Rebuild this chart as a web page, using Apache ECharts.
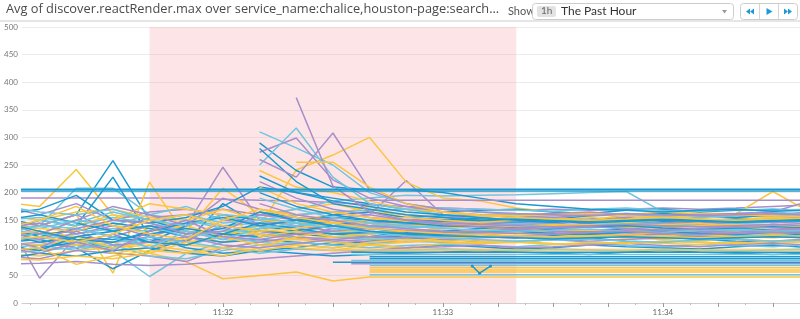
<!DOCTYPE html>
<html><head><meta charset="utf-8">
<script src="https://cdn.jsdelivr.net/npm/echarts@6/dist/echarts.min.js"></script>
<style>html,body{margin:0;padding:0;background:#fff}#c{width:800px;height:319px}</style>
</head><body><div id="c"></div>
<script>
// seconds after 11:31:00, one sample every 10 s
const times = [0,10,20,30,40,50,60,70,80,90,100,110,120,130,140,150,160,170,180,190,200,210,220];
const tickLabelValues = [60,120,180];
const tickLabels = ['11:32','11:33','11:34'];
const majorTicks = [15,30,45,60,75,90,105,120,135,150,165,180,195,210];
const minorTicks = [7.5,22.5,37.5,52.5,67.5,82.5,97.5,112.5,127.5,142.5,157.5,172.5,187.5,202.5];
const yTicks = [0,50,100,150,200,250,300,350,400,450,500];
const alertWindow = [40,140];

const yellowFull = [
 [183,175,242,160,150,135,125,130,128,140,135,130,128,132,135,130,128,132,130,135,138,132,130],
 [150,140,160,54,219,120,110,130,150,160,175,150,145,140,138,142,140,145,150,148,152,155,150],
 [130,125,150,140,135,130,208,160,170,180,165,160,155,150,152,150,155,150,148,150,145,150,148],
 [100,95,105,110,90,75,44,50,56,40,47,47,47,47,47,47,47,47,47,47,47,47,47],
 [120,115,140,160,130,140,120,140,241,268,300,219,190,185,172,165,160,158,155,160,158,156,155],
 [90,85,95,100,110,105,100,110,115,120,118,110,115,112,110,115,120,118,115,112,118,120,118],
 [160,150,165,170,155,150,170,150,145,150,140,145,150,155,160,155,150,160,165,162,162,202,165],
 [110,105,115,90,100,120,130,125,115,110,105,100,108,110,112,108,105,110,108,106,110,108,112],
 [140,135,130,150,180,170,160,120,130,120,125,130,135,140,135,130,138,140,136,135,140,138,142],
 [80,78,85,80,90,110,120,105,100,95,105,110,118,120,122,125,120,118,122,125,120,118,122],
 [125,130,120,100,105,95,85,100,120,130,128,125,122,125,128,130,132,128,125,130,128,125,128],
 [95,100,70,85,95,90,100,95,105,100,110,115,112,108,110,106,110,108,112,110,108,112,110],
 [115,120,110,125,150,160,140,130,135,145,150,155,150,146,150,154,150,146,150,152,148,150,152],
 [135,150,175,140,125,115,150,170,160,150,145,140,142,140,138,142,140,138,142,144,140,138,142]
];
const purpleFull = [
 [190,190,190,190,190,190,188,186,185,182,178,175,172,170,168,170,168,170,172,170,172,175,178],
 [165,45,120,110,120,140,246,150,140,130,125,130,135,140,142,145,140,138,142,145,148,150,152],
 [175,160,180,150,165,170,160,140,150,155,160,222,160,150,148,150,152,155,160,158,155,160,165],
 [120,130,110,125,100,115,140,130,120,135,130,125,128,130,132,128,130,135,132,130,128,132,135],
 [105,110,100,120,140,130,115,125,118,112,115,110,118,120,122,118,120,125,128,125,122,120,118],
 [150,140,160,130,155,160,170,160,150,145,140,150,145,148,152,155,150,152,155,150,148,152,155],
 [85,80,95,90,85,75,100,110,120,115,110,120,115,118,120,116,112,115,118,120,115,112,116],
 [135,145,125,140,120,110,150,145,135,140,138,142,140,145,148,140,145,150,148,142,145,148,150],
 [70,72,75,70,68,70,75,80,85,90,95,100,102,105,100,102,105,108,104,102,106,108,105],
 [145,125,150,175,160,140,190,170,160,165,155,150,155,158,160,162,165,160,158,160,162,165,185],
 [115,100,130,105,110,120,105,100,108,115,120,118,122,125,120,125,128,122,125,128,125,130,128],
 [130,115,135,150,145,125,130,160,155,150,145,148,150,146,144,148,150,146,144,148,150,146,144],
 [100,90,110,95,130,150,120,115,125,130,135,132,128,130,134,130,128,132,134,130,128,132,134]
];
const blueFull = [
 [155,140,160,258,150,130,120,135,140,150,145,140,138,142,145,140,138,142,145,140,138,142,140],
 [130,150,140,228,120,110,180,140,130,125,120,130,125,128,130,135,130,128,132,130,135,132,130],
 [110,115,100,62,95,115,140,130,125,120,118,122,125,120,118,122,125,128,124,120,118,122,125],
 [120,125,130,145,135,120,110,115,110,105,112,118,115,112,110,115,118,112,110,115,112,110,115],
 [140,120,135,120,110,140,160,150,145,160,165,155,158,160,155,152,158,160,162,158,155,160,158],
 [95,100,110,100,120,100,90,95,100,110,105,100,105,102,98,100,105,102,100,98,102,105,100],
 [160,170,195,150,145,155,175,210,200,190,180,170,165,168,170,165,162,168,170,165,168,170,168],
 [125,110,120,115,125,135,125,120,130,140,135,128,130,135,138,132,130,135,138,140,135,130,132],
 [80,90,85,95,100,90,85,95,90,85,88,90,92,95,92,90,88,92,95,92,90,88,90],
 [150,160,145,130,140,125,135,165,155,140,150,145,148,150,146,148,150,146,144,148,150,146,148],
 [105,95,120,130,110,105,125,145,135,125,128,126,124,128,130,126,124,128,130,126,124,128,126],
 [145,130,115,110,130,145,155,140,150,155,150,146,150,154,150,146,150,152,148,150,152,148,150]
];
const lightFull = [
 [130,140,208,208,160,150,140,145,150,140,135,140,145,142,140,138,142,145,140,138,142,140,138],
 [110,120,105,95,48,90,110,120,125,130,120,125,122,120,118,122,125,120,118,122,125,120,122],
 [145,135,150,140,160,175,150,160,170,185,190,195,194,195,196,198,200,202,165,160,162,165,160],
 [100,105,95,110,115,105,120,110,105,100,108,112,110,108,112,115,110,108,112,110,108,112,115],
 [120,115,125,135,130,150,135,125,120,130,128,132,130,128,126,130,132,128,126,130,132,128,130],
 [160,150,140,155,145,130,125,135,140,145,150,148,146,150,152,148,146,150,152,148,150,152,148],
 [90,95,100,105,85,80,95,105,110,105,100,104,106,104,102,106,108,104,102,106,104,102,106],
 [135,125,120,130,140,120,130,140,135,120,115,118,120,124,120,118,122,124,120,118,122,124,120],
 [105,130,115,100,120,110,100,90,98,95,95,96,98,96,94,98,96,94,98,96,94,96,98],
 [175,165,160,170,150,160,145,150,160,165,168,170,172,170,168,166,170,172,168,166,170,168,170],
 [125,140,135,120,100,130,115,135,145,140,138,136,140,138,136,140,138,136,140,138,136,140,138],
 [150,155,145,165,150,140,160,155,145,135,140,144,142,140,144,142,140,144,142,140,144,142,140]
];
// series that appear at 11:32:10
const lightLate = [
 [310,281,250,200,180,170,165,160,158,160,162,158,155,158,160,158],
 [250,317,228,180,170,160,155,150,152,150,148,150,152,150,148,150],
 [190,170,155,145,140,135,132,130,132,134,130,128,132,134,130,132],
 [155,145,135,128,122,118,115,112,114,116,112,110,114,116,112,114]
];
const blueLate = [
 [290,240,210,205,205,200,190,180,175,170,168,165,168,170,166,168],
 [280,220,180,170,160,155,150,152,150,148,150,152,150,148,150,152],
 [230,200,185,175,165,160,155,150,148,145,148,150,148,146,148,150],
 [200,175,160,150,145,140,138,136,135,138,140,136,134,136,138,136],
 [165,150,140,130,125,122,120,118,116,118,120,118,116,118,120,118]
];
const purpleLate = [
 [273,299,223,190,175,165,160,158,155,160,158,155,158,160,158,156],
 [260,228,308,205,180,170,165,162,160,158,162,160,158,160,162,160],
 [220,190,170,160,150,145,142,140,138,140,142,140,138,140,142,140],
 [180,160,150,140,135,130,128,126,125,128,130,126,124,126,128,126]
];
const yellowLate = [
 [240,210,200,185,170,165,160,158,160,162,158,155,158,160,158,156],
 [210,180,165,155,148,145,140,138,140,142,138,136,140,142,138,140],
 [170,155,145,135,130,126,124,122,120,122,124,120,118,120,122,120]
];
// series that appear at 11:32:20
const purpleSpike = [372,212,165,150,142,138,135,136,138,135,132,135,138,136,134];
const yellowPlateau = [255,255,210,180,165,158,155,152,150,152,155,152,150,152,154];
// flat series: [first second, value] held to the end of the window
const blueFlat = [[0,203],[0,206],[95,92],[100,84],[100,80],[90,74]];
const purpleFlat = [[100,186],[95,71]];
const yellowFlat = [[90,96],[100,64],[100,60],[100,56]];
const lightFlat = [[95,88],[95,77],[100,68],[100,51]];
const blueBlip = [[128,67],[130,54],[133,67]];

const COLORS = {yellow:'#fcc540', purple:'#a78fcb', blue:'#1c9acf', light:'#6fc6e1'};
const END = 220;

const series = [];
function addLine(data, color, extra) {
  series.push(Object.assign({
    type:'line', data, showSymbol:false, symbol:'none', silent:true, animation:false,
    lineStyle:{width:1.5, color}, itemStyle:{color}, clip:true
  }, extra||{}));
}
function fromIndex(start, vals){ return vals.map((v,i)=>[times[start+i], v]); }

// background alert window
series.push({type:'line', data:[], silent:true, animation:false,
  markArea:{silent:true, itemStyle:{color:'rgba(248,160,170,0.28)'}, data:[[{xAxis:alertWindow[0]},{xAxis:alertWindow[1]}]]}});

const groupsFull = [[yellowFull,'yellow'],[purpleFull,'purple'],[blueFull,'blue'],[lightFull,'light']];
const maxLen = Math.max(...groupsFull.map(g=>g[0].length));
for (let i=0;i<maxLen;i++) for (const [arr,c] of groupsFull) if (arr[i]) addLine(fromIndex(0,arr[i]), COLORS[c]);
const groupsLate = [[lightLate,'light'],[blueLate,'blue'],[purpleLate,'purple'],[yellowLate,'yellow']];
for (let i=0;i<5;i++) for (const [arr,c] of groupsLate) if (arr[i]) addLine(fromIndex(7,arr[i]), COLORS[c]);
addLine(fromIndex(8,purpleSpike), COLORS.purple);
addLine(fromIndex(8,yellowPlateau), COLORS.yellow);
const groupsFlat = [[blueFlat,'blue'],[purpleFlat,'purple'],[yellowFlat,'yellow'],[lightFlat,'light']];
for (const [arr,c] of groupsFlat) for (const [s,v] of arr) addLine([[s,v],[END,v]], COLORS[c]);
addLine(blueBlip, COLORS.blue, {showSymbol:true, symbol:'circle', symbolSize:3});

const chart = echarts.init(document.getElementById('c'), null, {renderer:'canvas'});
const BTN = '#1e9bd7';
chart.setOption({
  animation:false,
  grid:{left:22, right:0, top:27, bottom:16, containLabel:false},
  xAxis:[{
    type:'value', min:5.2, max:217.4,
    axisLine:{show:true, lineStyle:{color:'#cfcfcf', width:1}},
    axisTick:{show:true, customValues:majorTicks, length:4, lineStyle:{color:'#999'}},
    axisLabel:{show:true, customValues:tickLabelValues, fontSize:8, color:'#666', margin:5,
      fontFamily:'Lato',
      formatter:(v)=>{const i=tickLabelValues.indexOf(v); return i>=0?tickLabels[i]:'';}},
    splitLine:{show:false}
  },{
    type:'value', min:5.2, max:217.4, position:'bottom',
    axisLine:{show:false},
    axisTick:{show:true, customValues:minorTicks, length:2, lineStyle:{color:'#bbb'}},
    axisLabel:{show:false}, splitLine:{show:false}
  }],
  yAxis:{
    type:'value', min:yTicks[0], max:yTicks[yTicks.length-1], interval:50,
    axisLine:{show:false}, axisTick:{show:false},
    axisLabel:{fontSize:8, color:'#777', margin:4, fontFamily:'Lato'},
    splitLine:{lineStyle:{color:'#ececec', width:1}}
  },
  graphic:[
    {type:'line', shape:{x1:0,y1:21,x2:800,y2:21}, style:{stroke:'#e6e6e6', lineWidth:2}, silent:true},
    {type:'text', x:6, y:3, style:{text:'Avg of discover.reactRender.max over service_name:chalice,houston-page:search...', font:'12.8px "Open Sans"', fill:'#4a4a4a'}},
    {type:'text', x:508, y:6, style:{text:'Show', font:'11px Lato', fill:'#555'}},
    {type:'rect', shape:{x:532.5,y:3.5,width:201,height:16,r:3}, style:{fill:'#fff', stroke:'#cccccc', lineWidth:1}},
    {type:'rect', shape:{x:537,y:6,width:19,height:11,r:2}, style:{fill:'#e3e3e3'}},
    {type:'text', x:541, y:6, style:{text:'1h', font:'10px Lato', fill:'#666'}},
    {type:'text', x:561, y:5, style:{text:'The Past Hour', font:'12px Lato', fill:'#333'}},
    {type:'polygon', shape:{points:[[722,10],[727,10],[724.5,13.5]]}, style:{fill:'#999'}},
    {type:'rect', shape:{x:740.5,y:3.5,width:57,height:16,r:3}, style:{fill:'#fff', stroke:'#cccccc', lineWidth:1}},
    {type:'line', shape:{x1:759.5,y1:4,x2:759.5,y2:19}, style:{stroke:'#d5d5d5', lineWidth:1}},
    {type:'line', shape:{x1:778.5,y1:4,x2:778.5,y2:19}, style:{stroke:'#d5d5d5', lineWidth:1}},
    {type:'polygon', shape:{points:[[746,11.5],[750,8.5],[750,14.5]]}, style:{fill:BTN}},
    {type:'polygon', shape:{points:[[750,11.5],[754,8.5],[754,14.5]]}, style:{fill:BTN}},
    {type:'polygon', shape:{points:[[766.5,8],[772.5,11.5],[766.5,15]]}, style:{fill:BTN}},
    {type:'polygon', shape:{points:[[784,8.5],[788,11.5],[784,14.5]]}, style:{fill:BTN}},
    {type:'polygon', shape:{points:[[788,8.5],[792,11.5],[788,14.5]]}, style:{fill:BTN}}
  ],
  series
});
</script></body></html>
